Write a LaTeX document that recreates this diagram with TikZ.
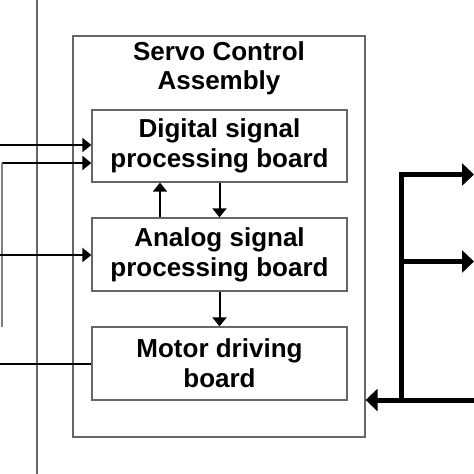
\documentclass[tikz,border=0pt]{standalone}
\usepackage{fontspec}
\setmainfont{Liberation Sans}
\usepackage{tikz}
\usetikzlibrary{positioning, calc, arrows.meta}

\begin{document}
\begin{tikzpicture}[x=1pt,y=-1pt,
    board/.style={draw=black!60,line width=1.3pt,minimum width=255pt,minimum height=72pt,
      inner sep=0pt,align=center,font=\bfseries\fontsize{26}{30}\selectfont},
    sig/.style={-{Triangle[length=9pt,width=14pt]},line width=2pt},
    bus/.style={line width=5pt},
    busarrow/.style={bus,-{Triangle[length=12pt,width=22pt]}}]
      \useasboundingbox (0,0) rectangle (474,474);
      \draw[black!60,line width=1.3pt](37,0)--(37,474);%縦線
      \node[draw=black!60,line width=1.3pt,minimum width=292pt,minimum height=401pt,inner sep=0pt]
        (asm) at (219,236.5) {};
      \node[below=3pt of asm.north,align=center,font=\bfseries\fontsize{26}{29}\selectfont]
        (title) {Servo Control\\Assembly};
      \node[board] (dsp) at (219.5,146) {Digital signal\\processing board};
      \node[board,minimum height=73pt] (asp) at (219.5,254.5) {Analog signal\\processing board};
      \node[board,minimum height=73pt] (mdb) at (219.5,363.5) {Motor driving\\board};
      % 左側の入力
      \coordinate (in1) at (0,145);
      \coordinate (in2) at (2,163);
      \coordinate (in2b) at (2,327);
      \coordinate (in3) at (0,255);
      \coordinate (in4) at (0,364);
      \draw[sig](in1)--(dsp.west |- in1);
      \draw[sig](in2)--(dsp.west |- in2);
      \draw[black!50,line width=2.5pt](in2)--(in2b);
      \draw[sig](in3)--(asp.west |- in3);
      \draw[line width=2pt](in4)--(mdb.west |- in4);
      % ボード間
      \draw[sig](asp.north -| 160,0)--(dsp.south -| 160,0);
      \draw[sig](dsp.south)--(asp.north);
      \draw[sig](asp.south)--(mdb.north);
      % 右側
      \coordinate (r1) at (401,174.5);
      \coordinate (r2) at (401,261.5);
      \coordinate (r3) at (401,400);
      \coordinate (o1) at (474,174.5);
      \coordinate (o2) at (474,261.5);
      \coordinate (o3) at (474,400);
      \draw[bus,line cap=rect](r1)--(r3);
      \draw[busarrow](r1)--(o1);
      \draw[busarrow](r2)--(o2);
      \draw[busarrow](o3)--(asm.east |- o3);
\end{tikzpicture}
\end{document}
